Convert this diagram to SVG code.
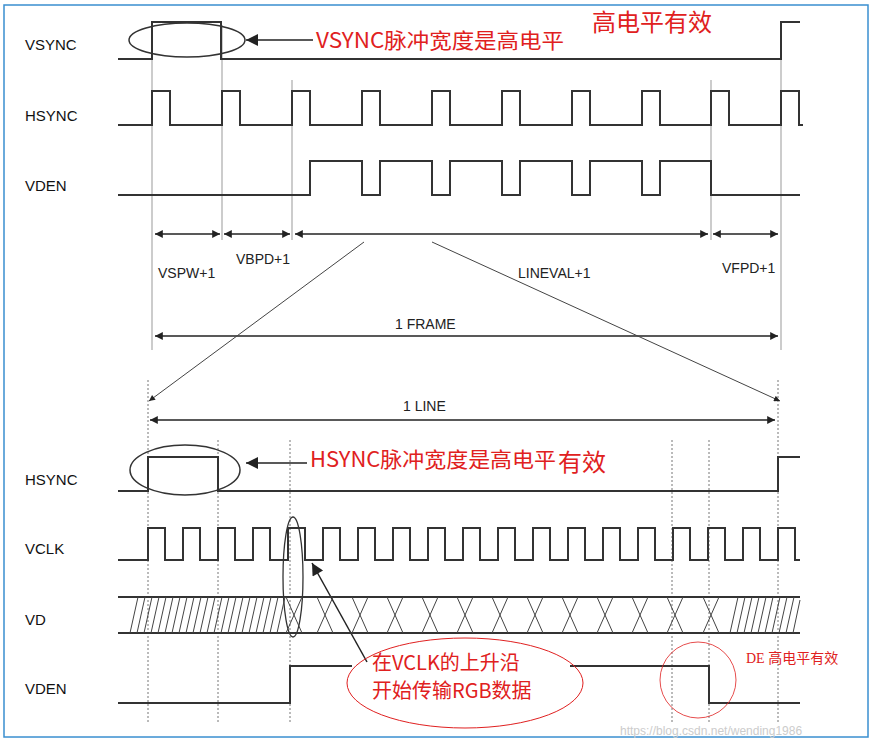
<svg xmlns="http://www.w3.org/2000/svg" width="872" height="749" viewBox="0 0 872 749">
<style>
.s{fill:none;stroke:#333;stroke-width:2}
.g{stroke:#999;stroke-width:1}
.d{stroke:#777;stroke-width:1;stroke-dasharray:2 2}
.a{stroke:#222;stroke-width:1.3;marker-start:url(#ah);marker-end:url(#ah)}
.lb{font-family:"Liberation Sans",Arial,sans-serif;font-size:15px;fill:#111}
.sm{font-family:"Liberation Sans",Arial,sans-serif;font-size:14px;fill:#222}
.r{font-family:"Noto Sans CJK SC","Liberation Sans",sans-serif;fill:#e02020}
.h{stroke:#444;stroke-width:1}
</style>
<defs>
<marker id="ah" viewBox="0 0 10 10" refX="10" refY="5" markerWidth="8" markerHeight="6" orient="auto-start-reverse"><path d="M0,0L10,5L0,10z" fill="#222"/></marker>
<marker id="ab" viewBox="0 0 10 10" refX="10" refY="5" markerWidth="10" markerHeight="8" orient="auto"><path d="M0,0L10,5L0,10z" fill="#222"/></marker>
</defs>
<rect x="0" y="0" width="872" height="749" fill="#fff"/>
<rect x="4" y="5" width="864" height="732" fill="none" stroke="#3a8fd0" stroke-width="1.5"/>
<g id="guides">
<line class="g" x1="152" y1="25" x2="152" y2="350"/><line class="g" x1="222" y1="25" x2="222" y2="240"/>
<line class="g" x1="292" y1="80" x2="292" y2="240"/><line class="g" x1="711" y1="80" x2="711" y2="240"/>
<line class="g" x1="781" y1="25" x2="781" y2="350"/>
<line class="d" x1="148" y1="380" x2="148" y2="722"/><line class="d" x1="218" y1="440" x2="218" y2="722"/>
<line class="d" x1="290" y1="440" x2="290" y2="722"/><line class="d" x1="672" y1="440" x2="672" y2="722"/>
<line class="d" x1="709" y1="440" x2="709" y2="722"/><line class="d" x1="778" y1="380" x2="778" y2="722"/>
</g>
<g id="labels">
<text class="lb" x="25" y="50">VSYNC</text><text class="lb" x="25" y="121">HSYNC</text><text class="lb" x="25" y="191">VDEN</text>
<text class="lb" x="25" y="485">HSYNC</text><text class="lb" x="25" y="554">VCLK</text><text class="lb" x="25" y="625">VD</text><text class="lb" x="25" y="694">VDEN</text>
</g>
<g id="vsync"><path class="s" d="M118,59H152V22H221V59H781V22H800"/></g>
<g id="hsync-top"><path class="s" d="M118,125H152V91H170V125H222V91H240V125H292V91H310V125H362V91H380V125H432V91H450V125H502V91H520V125H572V91H590V125H642V91H660V125H711V91H729V125H781V91H799V125H803"/></g>
<g id="vden-top"><path class="s" d="M118,195H310V161H362V195H380V161H432V195H450V161H502V195H520V161H572V195H590V161H642V195H660V161H711V195H800"/></g>
<g id="connectors">
<line class="a" x1="155" y1="234" x2="220" y2="234"/><line class="a" x1="224" y1="234" x2="290" y2="234"/>
<line class="a" x1="295" y1="234" x2="708" y2="234"/><line class="a" x1="713" y1="234" x2="778" y2="234"/>
<line class="a" x1="155" y1="336" x2="778" y2="336"/><line class="a" x1="150" y1="420" x2="775" y2="420"/>
<line x1="364" y1="242" x2="149" y2="401" stroke="#444" stroke-width="1" marker-end="url(#ah)"/>
<line x1="432" y1="242" x2="780" y2="401" stroke="#444" stroke-width="1" marker-end="url(#ah)"/>
<line x1="313" y1="40" x2="246" y2="40" stroke="#222" stroke-width="1.5" marker-end="url(#ab)"/>
<line x1="307" y1="463" x2="246" y2="463" stroke="#222" stroke-width="1.5" marker-end="url(#ab)"/>
<line x1="367" y1="662" x2="312" y2="563" stroke="#222" stroke-width="1.5" marker-end="url(#ab)"/>
</g>
<g id="top-text">
<text class="sm" x="158" y="278">VSPW+1</text><text class="sm" x="236" y="264">VBPD+1</text>
<text class="sm" x="518" y="278">LINEVAL+1</text><text class="sm" x="722" y="273">VFPD+1</text>
<text class="sm" x="395" y="329">1 FRAME</text><text class="sm" x="403" y="411">1 LINE</text>
</g>
<g id="vsync-note"><ellipse cx="187" cy="40" rx="58" ry="17" fill="none" stroke="#333" stroke-width="1.5"/>
<text class="r" x="316" y="48" font-size="21" textLength="248" lengthAdjust="spacingAndGlyphs">VSYNC脉冲宽度是高电平</text>
<text class="r" x="592" y="31" font-size="24">高电平有效</text></g>
<g id="hsync-bot"><path class="s" d="M118,491H148V457H218V491H778V457H800"/>
<ellipse cx="185" cy="470" rx="55" ry="25" fill="none" stroke="#333" stroke-width="1.5"/>
<text class="r" x="310" y="467" font-size="21" textLength="246" lengthAdjust="spacingAndGlyphs">HSYNC脉冲宽度是高电平</text><text class="r" x="558" y="471" font-size="24">有效</text></g>
<g id="vclk"><path class="s" d="M118,560H148V528H165V560H183V528H200V560H218V528H235V560H253V528H270V560H288V528H305V560H323V528H340V560H358V528H375V560H393V528H410V560H428V528H445V560H463V528H480V560H498V528H515V560H533V528H550V560H568V528H585V560H603V528H620V560H638V528H655V560H673V528H690V560H708V528H725V560H743V528H760V560H778V528H795V560H800"/>
<ellipse cx="293" cy="577" rx="10" ry="60" fill="none" stroke="#333" stroke-width="1.3"/></g>
<g id="vd">
<path class="s" d="M118,597H800M118,633H800" stroke-width="1.5"/>
<g class="h">
<path d="M130,633L138,597M137,633L145,597M144,633L152,597M151,633L159,597M158,633L166,597M165,633L173,597M172,633L180,597M179,633L187,597M186,633L194,597M193,633L201,597M200,633L208,597M207,633L215,597M214,633L222,597M221,633L229,597M228,633L236,597M235,633L243,597M242,633L250,597M249,633L257,597M256,633L264,597M263,633L271,597M270,633L278,597M277,633L285,597"/>
<path d="M730,633L738,597M737,633L745,597M744,633L752,597M751,633L759,597M758,633L766,597M765,633L773,597M772,633L780,597M779,633L787,597M786,633L794,597M793,633L800,600"/>
<path d="M286,597L302,633M286,633L302,597M317,597L333,633M317,633L333,597M352,597L368,633M352,633L368,597M387,597L403,633M387,633L403,597M422,597L438,633M422,633L438,597M457,597L473,633M457,633L473,597M492,597L508,633M492,633L508,597M527,597L543,633M527,633L543,597M562,597L578,633M562,633L578,597M597,597L613,633M597,633L613,597M632,597L648,633M632,633L648,597M667,597L683,633M667,633L683,597M703,597L719,633M703,633L719,597"/>
</g></g>
<g id="vden-bot"><path class="s" d="M118,703H290V666H352M570,666H709V703H800"/>
<ellipse cx="465" cy="683" rx="118" ry="45" fill="none" stroke="#e02020" stroke-width="1"/>
<text class="r" x="372" y="670" font-size="20">在VCLK的上升沿</text><text class="r" x="372" y="698" font-size="20">开始传输RGB数据</text>
<ellipse cx="698" cy="680" rx="38" ry="38" fill="none" stroke="#e02020" stroke-width="0.8"/>
<text x="746" y="663" font-size="14" fill="#e02020" font-family="'Liberation Serif','Noto Sans CJK SC',serif">DE 高电平有效</text></g>
<text x="620" y="735" font-size="12" fill="#ccc" font-family="'Liberation Sans',sans-serif">https://blog.csdn.net/wending1986</text>
</svg>
